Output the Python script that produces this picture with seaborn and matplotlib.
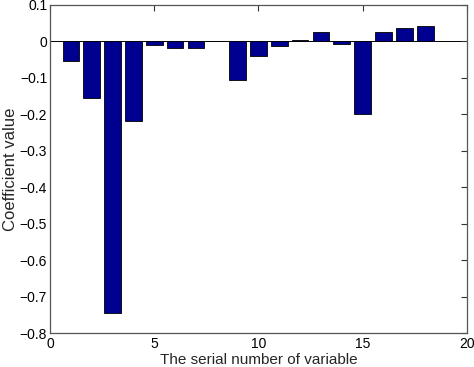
import numpy as np
import matplotlib
matplotlib.use("Agg")
import matplotlib.pyplot as plt
import seaborn as sns
from matplotlib.ticker import FuncFormatter

# valores
variavel = list(range(1, 19))
coeficiente = [-0.053, -0.155, -0.745, -0.219, -0.009, -0.018, -0.018, 0.002,
               -0.106, -0.040, -0.013, 0.004, 0.026, -0.007, -0.200, 0.026,
               0.037, 0.042]
x_ticks = [0, 5, 10, 15, 20]
y_ticks = [-0.8, -0.7, -0.6, -0.5, -0.4, -0.3, -0.2, -0.1, 0, 0.1]

sns.set_style("white")
plt.rcParams['font.family'] = ['Liberation Sans', 'DejaVu Sans']

fig = plt.figure(figsize=(4.74, 3.67), dpi=100)
ax = fig.add_axes([0.1055, 0.092, 0.8795, 0.895])

sns.barplot(x=variavel, y=coeficiente, native_scale=True, color='#000090',
            saturation=1, edgecolor='black', linewidth=0.6, width=0.8, ax=ax)
ax.axhline(0, color='black', linewidth=0.7, zorder=0)

ax.set_xlim(0, 20)
ax.set_ylim(-0.8, 0.1)
ax.set_xticks(x_ticks)
ax.set_yticks(y_ticks)
ax.yaxis.set_major_formatter(FuncFormatter(lambda v, p: f"{v:g}".replace('-', '\u2212')))
ax.tick_params(direction='in', length=4, width=0.8, top=True, right=True,
               labelsize=10, colors='#333333', labelcolor='black', pad=2)
ax.tick_params(axis='x', pad=3)
for s in ax.spines.values():
    s.set_color('#555555')
    s.set_linewidth(0.9)

ax.set_xlabel('The serial number of variable', fontsize=11, labelpad=1)
ax.set_ylabel('Coefficient value', fontsize=12, labelpad=1)

plt.savefig('out.png', dpi=100)
plt.close()
